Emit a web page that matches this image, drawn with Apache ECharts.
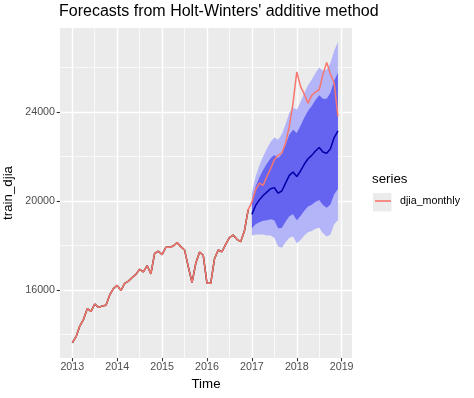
<!DOCTYPE html>
<html>
<head>
<meta charset="utf-8">
<script src="https://cdn.jsdelivr.net/npm/echarts@6/dist/echarts.min.js"></script>
<style>
  html, body { margin: 0; padding: 0; background: #fff; }
  #chart { width: 474px; height: 398px; }
</style>
</head>
<body>
<div id="chart"></div>
<script>
// monthly DJIA, Jan 2013 .. Dec 2018 (first 48 months are the training part)
const startYear = 2013;
const trainMonths = 48;
const djiaMonthly = [
  13630, 13900, 14380, 14680, 15160, 15040, 15370, 15220, 15280, 15310, 15780, 16060,
  16210, 15970, 16300, 16400, 16560, 16700, 16930, 16810, 17100, 16720, 17650, 17740,
  17590, 17920, 17920, 17980, 18130, 17950, 17800, 17050, 16330, 17200, 17700, 17560,
  16300, 16300, 17400, 17800, 17720, 18050, 18350, 18470, 18280, 18170, 18650, 19600,
  19950, 20500, 20800, 20700, 21100, 21450, 21850, 22050, 22150, 22600, 23350, 24400,
  25800, 25150, 24800, 24400, 24750, 24900, 25000, 25700, 26230, 25700, 25300, 23800
];

// Holt-Winters forecast, Jan 2017 .. Dec 2018
const forecastStart = 2017;
const fcMean = [
  19400, 19800, 20050, 20250, 20400, 20550, 20600, 20350, 20450, 20800, 21150, 21300,
  21100, 21350, 21650, 21900, 22050, 22250, 22400, 22200, 22150, 22350, 22850, 23150
];
const lo80 = [
  18780, 18950, 19040, 19110, 19130, 19180, 19130, 18780, 18790, 19070, 19320, 19400,
  19140, 19330, 19560, 19750, 19830, 19970, 20050, 19820, 19700, 19840, 20300, 20540
];
const hi80 = [
  20020, 20650, 21060, 21390, 21670, 21920, 22070, 21920, 22110, 22530, 22980, 23200,
  23060, 23380, 23740, 24050, 24270, 24540, 24750, 24590, 24600, 24870, 25400, 25760
];
const lo95 = [
  18450, 18500, 18500, 18500, 18450, 18450, 18350, 17950, 17900, 18150, 18350, 18400,
  18100, 18250, 18450, 18600, 18650, 18750, 18800, 18550, 18400, 18500, 18950, 19150
];
const hi95 = [
  20350, 21100, 21600, 22000, 22350, 22650, 22850, 22750, 23000, 23450, 23950, 24200,
  24100, 24450, 24850, 25200, 25450, 25750, 26000, 25850, 25900, 26200, 26750, 27150
];

const yearTicks = [2013, 2014, 2015, 2016, 2017, 2018, 2019];
const halfYearTicks = [2013.5, 2014.5, 2015.5, 2016.5, 2017.5, 2018.5];
const yMajorTicks = [16000, 20000, 24000];
const yMinorTicks = [14000, 18000, 22000, 26000];

const font = "'Liberation Sans', Arial, sans-serif";

function monthX(start, i) {
  return start + i / 12;
}

const actualData = djiaMonthly.map((v, i) => [monthX(startYear, i), v]);
const trainData = actualData.slice(0, trainMonths);
const meanData = fcMean.map((v, i) => [monthX(forecastStart, i), v]);

function band(lo, hi, color) {
  return {
    type: 'custom',
    silent: true,
    z: 2,
    data: lo.map((v, i) => [monthX(forecastStart, i), v, hi[i]]),
    encode: { x: 0, y: [1, 2] },
    renderItem(params, api) {
      if (params.dataIndex !== 0) return null;
      const pts = [];
      for (let i = 0; i < hi.length; i++) pts.push(api.coord([monthX(forecastStart, i), hi[i]]));
      for (let i = lo.length - 1; i >= 0; i--) pts.push(api.coord([monthX(forecastStart, i), lo[i]]));
      return { type: 'polygon', shape: { points: pts }, style: { fill: color } };
    }
  };
}

const chart = echarts.init(document.getElementById('chart'), null, { renderer: 'canvas' });

chart.setOption({
  animation: false,
  textStyle: { fontFamily: font },
  title: {
    text: "Forecasts from Holt-Winters' additive method",
    left: 59,
    top: 4,
    padding: 0,
    textStyle: { fontFamily: font, fontSize: 16, fontWeight: 'normal', color: '#000' }
  },
  grid: {
    left: 60, right: 122, top: 28, bottom: 40,
    show: true, backgroundColor: '#EBEBEB', borderWidth: 0,
    containLabel: false, outerBoundsMode: 'none'
  },
  xAxis: [
    {
      type: 'value', min: 2012.726, max: 2019.23, position: 'bottom',
      axisLine: { show: false },
      axisTick: { show: true, length: 3.3, lineStyle: { color: '#333', width: 1.1 }, customValues: yearTicks },
      axisLabel: { customValues: yearTicks, color: '#4D4D4D', fontSize: 10.7, margin: 4, formatter: v => String(Math.round(v)) },
      splitLine: { show: true, lineStyle: { color: '#fff', width: 1.4 } },
      name: 'Time', nameLocation: 'middle', nameGap: 18,
      nameTextStyle: { color: '#000', fontSize: 13.3 }
    },
    {
      type: 'value', min: 2012.726, max: 2019.23, position: 'top',
      axisLine: { show: false },
      axisTick: { show: false, customValues: halfYearTicks },
      axisLabel: { show: false, customValues: halfYearTicks },
      splitLine: { show: true, lineStyle: { color: '#fff', width: 0.7 } }
    }
  ],
  yAxis: [
    {
      type: 'value', min: 12944, max: 27775, position: 'left',
      axisLine: { show: false },
      axisTick: { show: true, length: 3.3, lineStyle: { color: '#333', width: 1.1 }, customValues: yMajorTicks },
      axisLabel: { customValues: yMajorTicks, color: '#4D4D4D', fontSize: 10.7, margin: 5, formatter: v => String(Math.round(v)) },
      splitLine: { show: true, lineStyle: { color: '#fff', width: 1.4 } },
      name: 'train_djia', nameLocation: 'middle', nameGap: 38, nameRotate: 90,
      nameTextStyle: { color: '#000', fontSize: 13.3 }
    },
    {
      type: 'value', min: 12944, max: 27775, position: 'right',
      axisLine: { show: false },
      axisTick: { show: false, customValues: yMinorTicks },
      axisLabel: { show: false, customValues: yMinorTicks },
      splitLine: { show: true, lineStyle: { color: '#fff', width: 0.7 } }
    }
  ],
  legend: {
    data: ['djia_monthly'],
    left: 375, top: 195.5,
    padding: 0,
    icon: 'rect', itemWidth: 16, itemHeight: 1.6,
    selectedMode: false,
    textStyle: { color: '#000', fontSize: 10.7, padding: [0, 0, 0, 4] }
  },
  graphic: [
    { type: 'rect', left: 373, top: 193, z: -1, shape: { width: 18.4, height: 18.4 }, style: { fill: '#EBEBEB' } },
    { type: 'text', left: 372, top: 173, style: { text: 'series', fontSize: 13.3, fontFamily: font, fill: '#000' } }
  ],
  series: [
    band(lo95, hi95, '#B4B4F8'),
    band(lo80, hi80, '#6464F0'),
    {
      type: 'line', name: 'forecast', data: meanData, showSymbol: false, z: 3,
      lineStyle: { color: '#0000AA', width: 1.5 }, itemStyle: { color: '#0000AA' }
    },
    {
      type: 'line', name: 'train', data: trainData, showSymbol: false, z: 4,
      lineStyle: { color: '#000', width: 1.5 }, itemStyle: { color: '#000' }
    },
    {
      type: 'line', name: 'djia_monthly', data: actualData, showSymbol: false, z: 5,
      lineStyle: { color: '#F8766D', width: 1.5 }, itemStyle: { color: '#F8766D' }
    }
  ]
});
</script>
</body>
</html>
